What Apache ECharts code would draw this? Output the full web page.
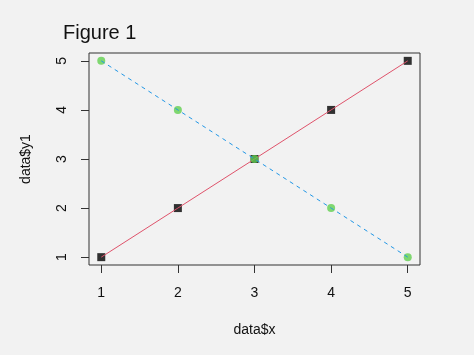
<!DOCTYPE html>
<html>
<head>
<meta charset="utf-8">
<script src="https://cdn.jsdelivr.net/npm/echarts@6/dist/echarts.min.js"></script>
<style>
html,body{margin:0;padding:0;background:#f2f2f2;}
#c{width:474px;height:355px;}
</style>
</head>
<body>
<div id="c"></div>
<script>
var xValues = [1, 2, 3, 4, 5];
var y1 = [1, 2, 3, 4, 5];
var y2 = [5, 4, 3, 2, 1];
var xTicks = [1, 2, 3, 4, 5];
var yTicks = [1, 2, 3, 4, 5];

function pairs(xs, ys) { return xs.map(function (x, i) { return [x, ys[i]]; }); }

var font = 'Liberation Sans, Arial, sans-serif';
var chart = echarts.init(document.getElementById('c'), null, {renderer: 'canvas'});
chart.setOption({
  backgroundColor: '#f2f2f2',
  animation: false,
  title: {
    text: 'Figure 1', left: 58, top: 18,
    textStyle: {fontFamily: font, fontSize: 20, fontWeight: 'normal', color: '#111'}
  },
  grid: {
    left: 89, top: 53, right: 54, bottom: 90,
    show: true, borderColor: '#333', borderWidth: 1, backgroundColor: 'transparent'
  },
  xAxis: {
    type: 'value', min: 0.84, max: 5.16,
    name: 'data$x', nameLocation: 'middle', nameGap: 58,
    nameTextStyle: {fontFamily: font, fontSize: 14, color: '#111'},
    axisLine: {show: false},
    axisTick: {show: true, length: 8, inside: false, customValues: xTicks, lineStyle: {color: '#333'}},
    axisLabel: {customValues: xTicks, margin: 21, fontFamily: font, fontSize: 14, color: '#111'},
    splitLine: {show: false}
  },
  yAxis: {
    type: 'value', min: 0.84, max: 5.16,
    name: 'data$y1', nameLocation: 'middle', nameGap: 56, nameRotate: 90,
    nameTextStyle: {fontFamily: font, fontSize: 14, color: '#111'},
    axisLine: {show: false},
    axisTick: {show: true, length: 8, inside: false, customValues: yTicks, lineStyle: {color: '#333'}},
    axisLabel: {customValues: yTicks, margin: 20, rotate: 90, fontFamily: font, fontSize: 14, color: '#111'},
    splitLine: {show: false}
  },
  series: [
    {
      type: 'scatter', data: pairs(xValues, y1), symbol: 'rect', symbolSize: 8,
      itemStyle: {color: '#000'}, z: 2
    },
    {
      type: 'line', data: pairs(xValues, y1), showSymbol: false, symbol: 'none',
      lineStyle: {color: '#DF536B', width: 1}, z: 3
    },
    {
      type: 'scatter', data: pairs(xValues, y2), symbol: 'circle', symbolSize: 8,
      itemStyle: {color: '#61D04F'}, z: 4
    },
    {
      type: 'line', data: pairs(xValues, y2), showSymbol: false, symbol: 'none',
      lineStyle: {color: '#2297E6', width: 1, type: [4, 4]}, z: 5
    }
  ]
});
</script>
</body>
</html>
